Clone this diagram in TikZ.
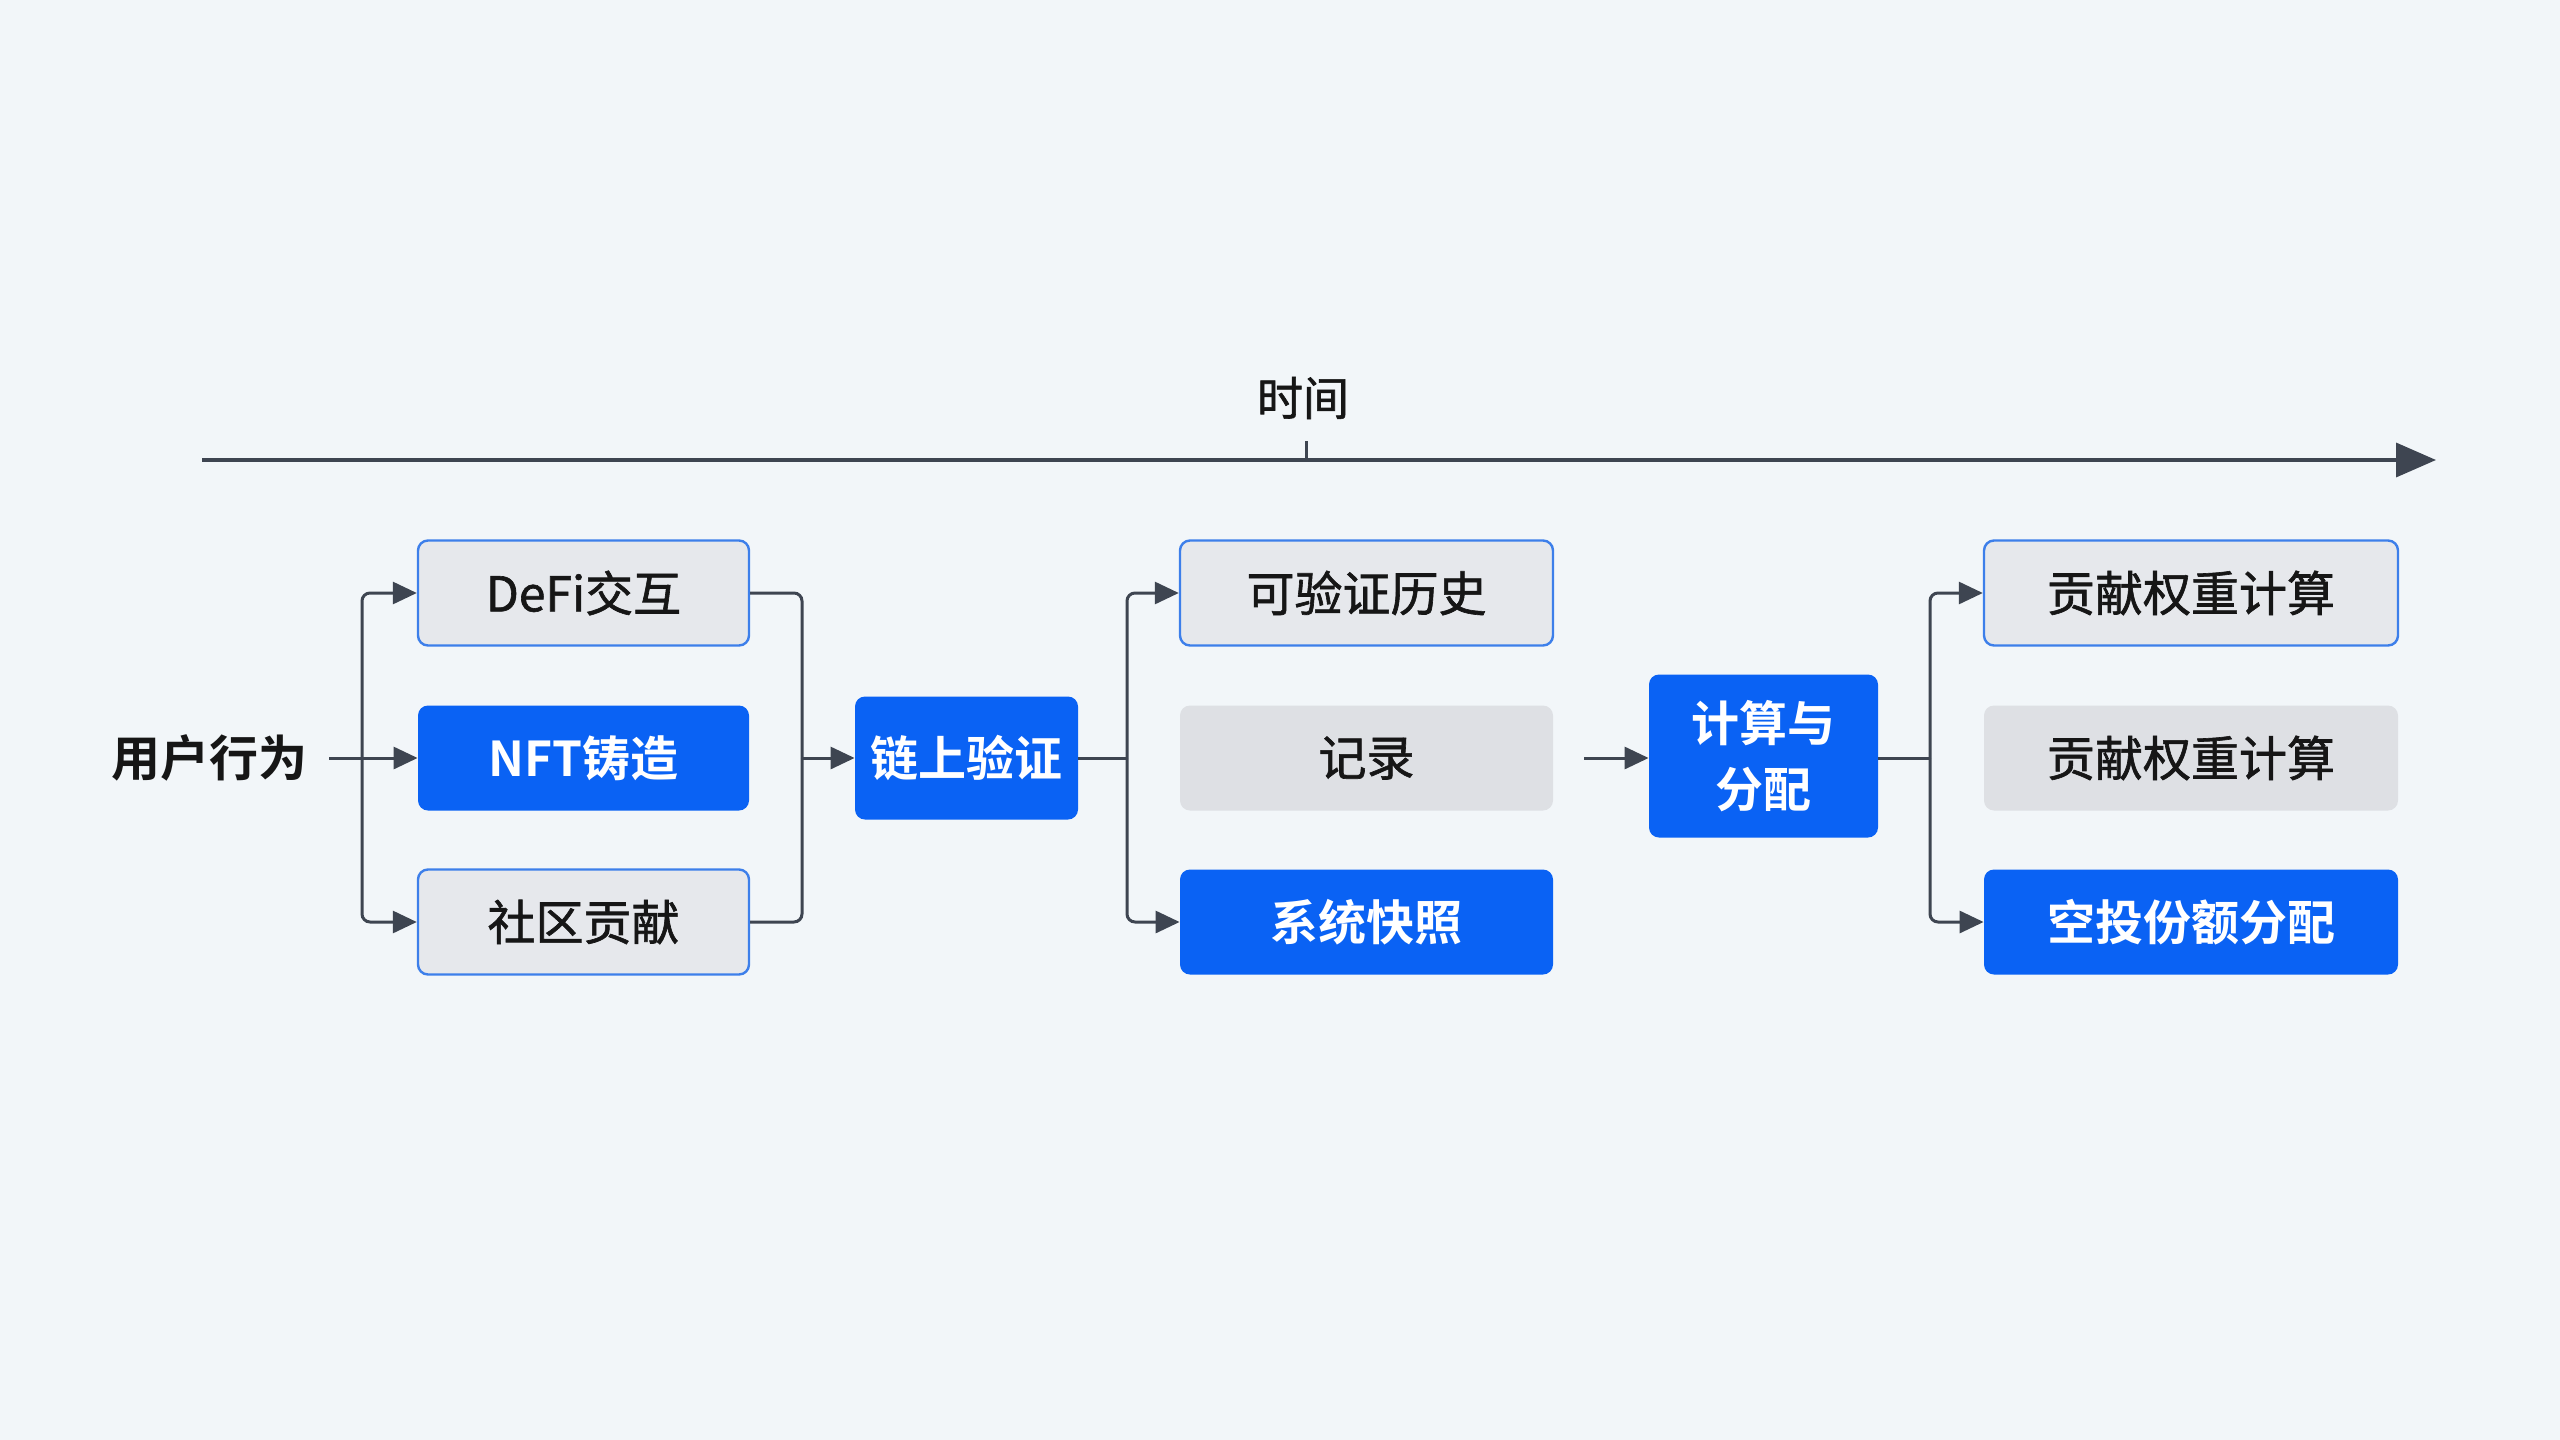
\documentclass[tikz,border=0pt]{standalone}
\usepackage{fontspec}
\setmainfont{Noto Sans CJK SC}[BoldFont={Noto Sans CJK SC Bold}]
\newfontfamily\medfont{Noto Sans CJK SC}[FakeBold=1.3]
\usetikzlibrary{arrows.meta}
\definecolor{bg}{HTML}{F2F6F9}
\definecolor{mainblue}{HTML}{0A62F4}
\definecolor{lightgray}{HTML}{E6E8EC}
\definecolor{midgray}{HTML}{DEE0E4}
\definecolor{edgeblue}{HTML}{3D7FEA}
\definecolor{linec}{HTML}{3E4551}
\definecolor{txt}{HTML}{161616}
\begin{document}
\begin{tikzpicture}[x=0.5pt,y=-0.5pt,
  boxbase/.style={rounded corners=5pt,inner sep=0pt,align=center,
    font=\fontsize{24}{30}\selectfont\medfont},
  graybox/.style={boxbase,fill=lightgray,draw=edgeblue,line width=1.2pt,text=txt},
  plainbox/.style={boxbase,fill=midgray,text=txt},
  bluebox/.style={boxbase,fill=mainblue,text=white,font=\fontsize{24}{30}\selectfont\bfseries},
  wA/.style={minimum width=165.5pt,minimum height=52.5pt},
  wB/.style={minimum width=186.5pt,minimum height=52.5pt},
  wC/.style={minimum width=207pt,minimum height=52.5pt},
  line/.style={draw=linec,line width=1.5pt,rounded corners=4pt},
  conn/.style={line,-{Triangle[length=12pt,width=11pt]}},
  tl/.style={draw=linec,line width=1.8pt,-{Triangle[length=20pt,width=17pt]}}
]
\fill[bg] (0,0) rectangle (2560,1440);
\useasboundingbox (0,0) rectangle (2560,1440);

% timeline
\coordinate (t0) at (202,460);
\coordinate (t1) at (2436,460);
\draw[tl] (t0) -- (t1);
\coordinate (tk0) at (1306,441);
\coordinate (tk1) at (1306,460);
\draw[draw=linec,line width=1.5pt] (tk0) -- (tk1);
\node[font=\fontsize{23}{28}\selectfont\medfont,text=txt] (time) at (1303,398) {时间};

% user
\node[font=\fontsize{24.5}{30}\selectfont\bfseries,text=txt,inner sep=0pt] (user) at (209,758) {用户行为};

% column 1
\node[graybox,wA] (defi) at (583.5,593) {DeFi交互};
\node[bluebox,wA] (nft) at (583.5,758) {NFT铸造};
\node[graybox,wA] (comm) at (583.5,922) {社区贡献};

% chain
\node[bluebox,minimum width=111.5pt,minimum height=61.5pt] (chain) at (966.5,758) {链上验证};

% column 2
\node[graybox,wB] (hist) at (1366.5,593) {可验证历史};
\node[plainbox,wB] (rec) at (1366.5,758) {记录};
\node[bluebox,wB] (snap) at (1366.5,922) {系统快照};

% calc
\node[bluebox,minimum width=114.5pt,minimum height=81.5pt,
  font=\fontsize{24}{33}\selectfont\bfseries] (calc) at (1763.5,756) {计算与\\分配};

% column 3
\node[graybox,wC] (w1) at (2191,593) {贡献权重计算};
\node[plainbox,wC] (w2) at (2191,758) {贡献权重计算};
\node[bluebox,wC] (drop) at (2191,922) {空投份额分配};

% connectors stage 1
\coordinate (j1) at (362,758);
\draw[conn,shorten <=11pt] (user.east) -- (nft.west);
\draw[conn] (j1) |- (defi.west);
\draw[conn] (j1) |- (comm.west);

% merge
\coordinate (m1) at (802,758);
\draw[line] (defi.east) -| (m1);
\draw[line] (comm.east) -| (m1);
\draw[conn] (m1) -- (chain.west);

% stage 2
\coordinate (j2) at (1127,758);
\draw[line] (chain.east) -- (j2);
\draw[conn] (j2) |- (hist.west);
\draw[conn] (j2) |- (snap.west);

% to calc
\draw[conn,shorten <=15.5pt] (rec.east) -- (calc.west |- rec.east);

% stage 3
\coordinate (j3) at (1930,758);
\draw[line] (calc.east |- j3) -- (j3);
\draw[conn] (j3) |- (w1.west);
\draw[conn] (j3) |- (drop.west);
\end{tikzpicture}
\end{document}
